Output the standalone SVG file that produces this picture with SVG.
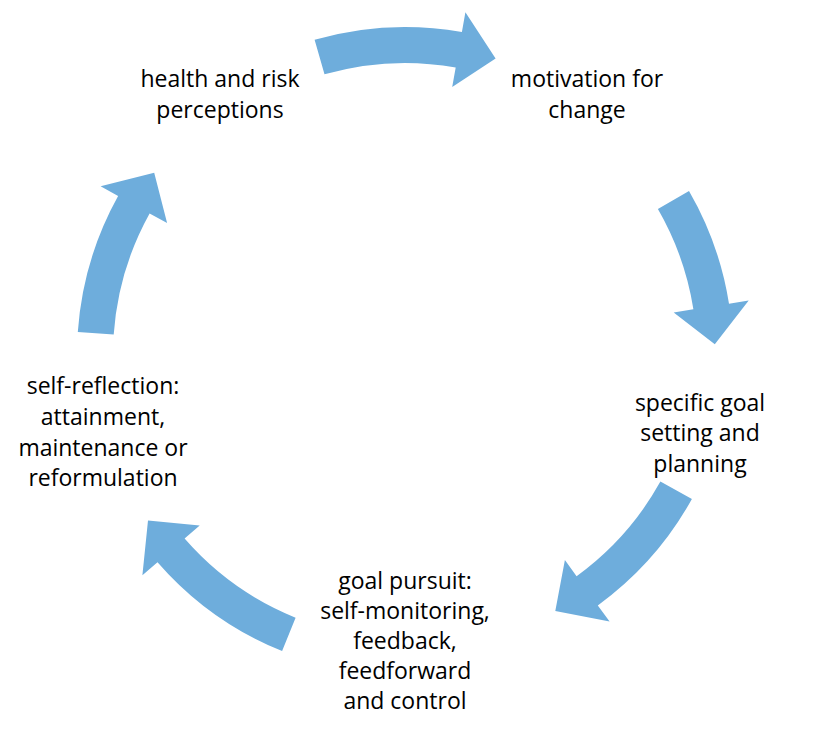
<svg xmlns="http://www.w3.org/2000/svg" width="830" height="734" viewBox="0 0 830 734">
<style>
.a{fill:#6EADDC}
text{font-family:"Open Sans","Liberation Sans",sans-serif;font-size:23px;fill:#000;text-anchor:middle}
</style>
<rect width="830" height="734" fill="#fff"/>
<g id="connectors">
<path class="a" d="M314.6,39.7 A328,328 0 0 1 461.9,32 L465.4,12.3 L495.6,58.5 L452.2,87.1 L455.7,67.4 A292,292 0 0 0 324.5,74.3 Z"/>
<path class="a" d="M689,191 A328,328 0 0 1 729,303.7 L748.7,300.6 L714.8,344.2 L673.7,312.5 L693.4,309.3 A292,292 0 0 0 657.9,209 Z"/>
<g transform="translate(0,-15)">
<path class="a" d="M691.9,514 A328,328 0 0 1 597.8,620.4 L609.6,636.5 L555.3,626.1 L564.9,575 L576.6,591.2 A292,292 0 0 0 660.4,496.6 Z"/>
</g>
<g transform="translate(0,-8)">
<path class="a" d="M282.1,659.1 A328,328 0 0 1 157.5,570.2 L142.4,583.3 L148,528.4 L199.7,533.5 L184.6,546.6 A292,292 0 0 0 295.6,625.7 Z"/>
</g>
<path class="a" d="M77.8,332.1 A328,328 0 0 1 118.1,196 L100.6,186.3 L154.2,172.8 L167.1,223.1 L149.6,213.4 A292,292 0 0 0 113.7,334.6 Z"/>
</g>
<g id="n1"><text x="220" y="87">health and risk</text><text x="220" y="118">perceptions</text></g>
<g id="n2"><text x="587" y="87">motivation for</text><text x="587" y="118">change</text></g>
<g id="n3"><text x="700" y="411">specific goal</text><text x="700" y="441">setting and</text><text x="700" y="472">planning</text></g>
<g id="n4"><text x="405" y="589">goal pursuit:</text><text x="405" y="619">self-monitoring,</text><text x="405" y="649">feedback,</text><text x="405" y="679">feedforward</text><text x="405" y="709">and control</text></g>
<g id="n5"><text x="103" y="394">self-reflection:</text><text x="103" y="425">attainment,</text><text x="103" y="456">maintenance or</text><text x="103" y="486">reformulation</text></g>
</svg>
